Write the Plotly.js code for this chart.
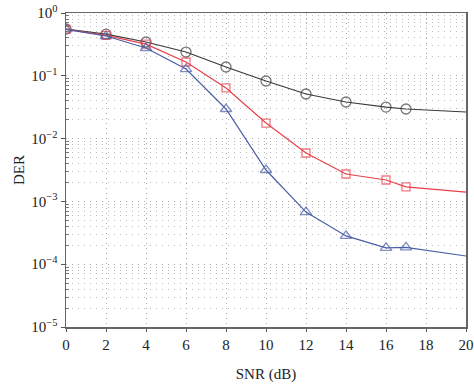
<!DOCTYPE html>
<html><head><meta charset="utf-8">
<script src="https://cdn.plot.ly/plotly-3.0.1.min.js"></script>
<style>html,body{margin:0;padding:0;background:#fff}#chart{width:474px;height:384px}</style>
</head><body><div id="chart"></div>
<script>
var snr = [0, 2, 4, 6, 8, 10, 12, 14, 16, 17, 20];
var derBlack = [0.556, 0.46, 0.345, 0.239, 0.138, 0.0826, 0.0513, 0.0383, 0.0318, 0.0296, 0.0265];
var derRed = [0.55, 0.44, 0.32, 0.166, 0.064, 0.0177, 0.0059, 0.00273, 0.00219, 0.0017, 0.00141];
var derBlue = [0.55, 0.43, 0.277, 0.128, 0.0296, 0.00316, 0.000677, 0.000282, 0.000182, 0.000185, 0.000135];
var xTicks = [0, 2, 4, 6, 8, 10, 12, 14, 16, 18, 20];
var yTickVals = [1e-5, 1e-4, 1e-3, 1e-2, 1e-1, 1];
var yTickText = ['10<sup>\u22125</sup>', '10<sup>\u22124</sup>', '10<sup>\u22123</sup>', '10<sup>\u22122</sup>', '10<sup>\u22121</sup>', '10<sup>0</sup>'];

var minorVals = [];
for (var e = -5; e < 0; e++) {
  for (var m = 2; m <= 9; m++) minorVals.push(m * Math.pow(10, e));
}
function sizes(s) { return snr.map(function (x, i) { return i === snr.length - 1 ? 0 : s; }); }

var traces = [
  {x: snr, y: derBlack, mode: 'lines+markers', line: {color: '#3a3a3a', width: 1.2},
   marker: {symbol: 'circle-open', size: sizes(10), color: '#3a3a3a', line: {width: 1.3}}},
  {x: snr, y: derRed, mode: 'lines+markers', line: {color: '#e8414a', width: 1.2},
   marker: {symbol: 'square-open', size: sizes(8), color: '#e8414a', line: {width: 1.3}}},
  {x: snr, y: derBlue, mode: 'lines+markers', line: {color: '#4a5ea6', width: 1.2},
   marker: {symbol: 'triangle-up-open', size: sizes(10), color: '#4a5ea6', line: {width: 1.3}}}
];

var layout = {
  width: 474, height: 384,
  margin: {l: 66, r: 8, t: 13, b: 57},
  paper_bgcolor: '#fff', plot_bgcolor: '#fff',
  showlegend: false,
  font: {family: 'Liberation Serif, serif', size: 15, color: '#222'},
  xaxis: {
    range: [0, 20], tickvals: xTicks, ticks: 'outside', ticklen: 3, tickcolor: '#555',
    showline: true, linecolor: '#666', linewidth: 1.5, mirror: true, zeroline: false,
    showgrid: true, gridcolor: '#aaa', griddash: '1px,4px', gridwidth: 1,
    title: {text: 'SNR (dB)', font: {size: 15}, standoff: 17},
    tickfont: {size: 15}
  },
  yaxis: {
    type: 'log', range: [-5, 0], tickvals: yTickVals, ticktext: yTickText,
    ticks: 'outside', ticklen: 4, tickcolor: '#555',
    showline: true, linecolor: '#666', linewidth: 1.5, mirror: true, zeroline: false,
    showgrid: true, gridcolor: '#aaa', griddash: '1px,5px', gridwidth: 1,
    minor: {tickmode: 'array', tickvals: minorVals, ticks: 'inside', ticklen: 3, tickcolor: '#777',
            showgrid: true, gridcolor: '#bbb', griddash: '1px,5px', gridwidth: 1},
    title: {text: 'DER', font: {size: 15}, standoff: 3},
    tickfont: {size: 15}
  }
};
Plotly.newPlot('chart', traces, layout, {staticPlot: true, displayModeBar: false});
</script>
</body></html>
